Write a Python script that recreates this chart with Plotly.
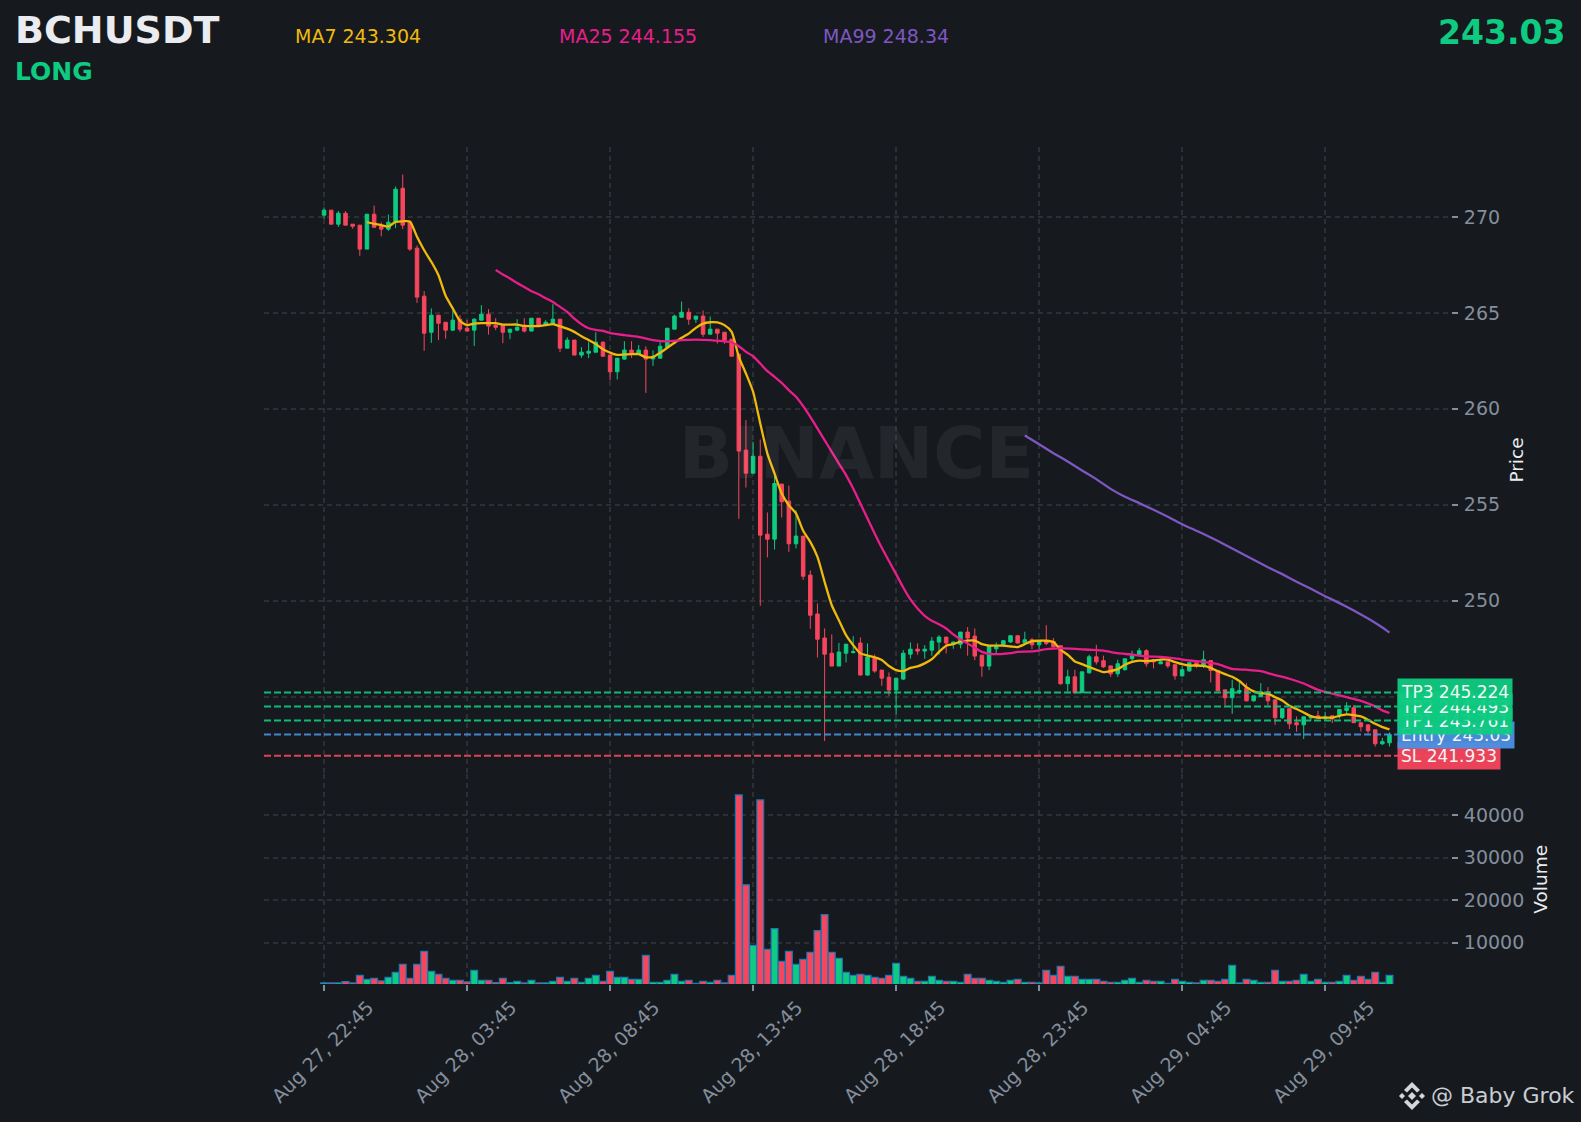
import pandas as pd
import plotly.graph_objects as go
from plotly.subplots import make_subplots

# 15m candles, Aug 27 22:45 -> Aug 29 12:00
dates = pd.date_range("2025-08-27 22:45", periods=150, freq="15min")

opens = [270.09,270.35,269.62,270.19,269.62,269.57,268.32,270.14,269.51,269.36,
         269.72,271.49,269.72,268.37,265.87,263.99,264.88,264.51,264.10,264.67,
         264.20,264.10,264.62,264.93,264.36,264.36,263.99,264.10,264.25,264.05,
         264.72,264.36,264.41,264.67,263.16,263.58,262.80,262.90,262.95,263.47,
         262.80,261.93,262.59,263.06,262.85,263.06,262.60,262.64,263.21,264.15,
         264.77,265.03,264.67,264.83,263.89,264.15,263.99,263.63,262.85,257.85,
         256.65,257.53,253.47,253.21,256.08,255.19,252.97,253.37,251.34,249.31,
         248.06,247.27,246.60,247.27,247.30,247.80,246.13,247.01,246.39,246.02,
         245.35,245.92,247.22,247.48,247.38,247.43,247.85,248.11,247.74,247.74,
         248.37,248.16,247.17,246.60,247.50,247.71,247.86,248.18,247.81,247.97,
         247.71,247.90,247.88,247.66,245.68,246.04,245.21,246.25,247.08,246.88,
         246.61,246.20,246.41,246.98,247.19,247.40,246.93,246.72,246.82,246.67,
         246.09,246.35,246.77,246.61,246.89,246.37,245.36,244.95,245.25,245.47,
         244.79,245.00,245.26,244.84,243.91,244.38,243.65,243.54,243.90,244.01,
         243.85,244.01,244.06,244.29,244.43,243.65,243.54,243.28,242.55,242.60]
highs = [270.49,270.35,270.31,270.30,269.62,269.57,270.14,270.59,269.72,270.12,
         271.58,272.20,269.72,268.51,266.13,265.23,264.88,264.51,265.14,264.88,
         264.62,264.72,265.40,265.19,264.72,264.36,264.15,264.67,264.72,264.72,
         264.72,264.62,265.45,264.67,263.73,263.58,263.21,263.47,263.99,263.52,
         262.80,262.64,263.52,263.52,263.32,263.26,263.04,263.47,264.20,264.91,
         265.59,265.24,264.83,265.12,264.81,264.15,263.99,263.63,262.85,259.41,
         258.28,258.40,254.60,256.72,256.08,256.00,254.72,253.37,251.58,249.86,
         248.56,248.25,247.81,247.74,248.16,248.09,247.78,247.20,246.39,246.27,
         245.97,247.43,247.83,247.78,247.69,248.11,248.21,248.11,247.88,248.37,
         248.63,248.56,247.17,247.64,247.83,247.95,248.22,248.22,248.39,248.06,
         247.90,248.73,248.06,247.68,246.41,246.41,246.30,247.19,247.71,247.14,
         246.61,246.93,246.98,247.40,247.55,247.48,246.93,246.98,246.82,246.67,
         246.61,246.77,246.77,247.40,246.89,246.37,245.36,245.89,245.75,245.71,
         245.05,245.71,245.50,244.84,244.38,244.38,243.98,243.96,244.00,244.27,
         244.22,244.01,244.34,244.72,244.58,243.65,243.54,243.28,242.86,243.14]
lows = [269.90,269.62,269.48,269.57,269.38,267.97,268.32,269.43,268.99,269.27,
        269.41,269.36,268.23,265.52,263.02,263.44,263.58,263.65,264.05,264.01,
        264.05,263.28,264.62,263.87,264.10,263.42,263.63,264.05,263.98,264.05,
        264.31,264.36,264.41,262.95,263.16,262.80,262.66,262.64,262.95,262.74,
        261.48,261.53,262.55,262.66,262.85,260.83,262.24,262.64,263.21,264.15,
        264.77,264.38,264.48,263.75,263.89,263.40,263.39,262.74,254.27,255.90,
        256.65,249.74,252.26,252.67,254.34,252.55,252.73,251.09,248.54,247.05,
        242.70,246.60,246.60,246.79,247.26,246.13,246.10,246.25,245.57,245.05,
        244.08,245.87,246.98,247.19,246.98,247.14,247.19,247.26,247.50,247.52,
        247.14,246.91,246.04,246.39,247.26,247.60,247.80,247.78,247.70,247.48,
        247.47,247.69,247.58,245.63,245.28,245.17,245.21,246.20,246.68,246.50,
        246.04,246.04,246.37,246.82,247.19,246.56,246.48,246.70,246.50,245.89,
        246.05,246.30,246.50,246.50,245.75,245.31,244.55,244.11,245.14,244.75,
        244.74,245.00,244.53,243.54,243.85,243.32,243.18,242.80,243.75,243.85,
        243.80,243.63,243.87,244.05,243.65,243.19,243.09,242.41,242.50,242.41]
closes = [270.35,269.62,270.19,269.57,269.51,268.32,270.14,269.46,269.36,269.72,
          271.44,269.57,268.32,265.82,263.94,264.88,264.46,264.10,264.62,264.15,
          264.05,264.67,264.93,264.31,264.25,263.99,264.15,264.25,264.05,264.72,
          264.31,264.51,264.67,263.16,263.58,262.80,262.95,263.00,263.47,262.74,
          261.93,262.64,263.06,262.85,263.06,262.59,262.71,263.26,264.20,264.83,
          265.03,264.67,264.83,263.89,264.15,263.94,263.58,262.74,257.80,256.65,
          257.53,253.42,253.21,256.11,255.16,252.97,253.37,251.28,249.25,248.00,
          247.22,246.60,247.33,247.74,247.35,246.13,247.07,246.34,245.97,245.35,
          245.97,247.27,247.48,247.38,247.48,247.90,248.11,247.80,247.85,248.37,
          248.06,247.12,246.60,247.64,247.60,247.92,248.18,247.80,247.97,247.71,
          247.88,247.78,247.60,245.68,246.04,245.21,246.30,247.08,246.82,246.56,
          246.20,246.72,246.98,247.14,247.40,246.72,246.82,246.82,246.61,246.09,
          246.41,246.77,246.61,246.93,246.37,245.31,244.95,245.42,245.32,244.79,
          245.05,245.26,244.79,243.91,244.38,243.59,243.54,243.96,243.95,243.89,
          243.94,243.85,244.34,244.41,243.65,243.44,243.23,242.55,242.66,243.03]
volumes = [550,550,550,870,550,2350,1400,1650,1020,1880,
           3050,4920,1650,4920,7970,3290,2580,1650,1180,1180,
           790,3520,1180,1180,630,1650,630,950,550,1180,
           550,550,950,1880,950,1650,710,1650,2350,950,
           3290,1880,1880,1400,1400,7030,710,710,1180,2580,
           950,1180,480,950,710,1180,550,2350,44800,23640,
           9370,43610,8430,13350,5630,7970,4920,6090,7730,12880,
           16620,7730,6330,3050,2350,2580,2350,1880,1650,2350,
           5160,2120,1650,950,950,2120,1180,950,950,710,
           2580,1650,1650,1180,950,710,1180,1400,710,710,
           550,3520,2350,4460,2120,2120,1400,1400,1400,950,
           710,710,1180,1650,710,1180,950,950,480,1400,
           950,710,550,1180,1180,950,1400,4690,550,1400,
           1180,710,710,3520,950,950,1180,2580,950,1400,
           710,710,950,2350,1180,2120,1400,3050,710,2350]

ma7_idx = list(range(6, 150))
ma7 = [269.72,269.64,269.57,269.50,269.74,269.77,269.76,268.96,268.26,267.66,
       266.96,265.89,265.23,264.58,264.36,264.44,264.46,264.46,264.46,264.39,
       264.39,264.39,264.32,264.31,264.31,264.36,264.41,264.30,264.18,264.01,
       263.78,263.58,263.37,263.11,262.93,262.81,262.83,262.85,262.85,262.69,
       262.71,262.92,263.18,263.44,263.70,263.92,264.22,264.44,264.51,264.50,
       264.36,264.01,262.71,261.84,260.89,259.24,257.67,256.63,255.59,254.98,
       254.55,253.65,253.07,252.29,250.99,249.77,248.99,248.21,247.69,247.26,
       247.15,247.05,246.91,246.60,246.39,246.34,246.51,246.58,246.74,246.96,
       247.34,247.66,247.74,247.88,247.93,247.93,247.74,247.67,247.67,247.66,
       247.62,247.59,247.74,247.90,247.92,247.92,247.85,247.45,247.19,246.84,
       246.70,246.55,246.41,246.28,246.34,246.44,246.67,246.82,246.88,246.86,
       246.89,246.94,246.93,246.81,246.70,246.63,246.63,246.61,246.51,246.33,
       246.18,246.04,245.82,245.50,245.28,245.19,245.16,244.98,244.81,244.53,
       244.36,244.18,243.99,243.91,243.92,243.91,244.01,244.08,244.05,243.98,
       243.80,243.59,243.42,243.30]
ma25_idx = [24,25,26,27,28,29,30,31,32,33,34,35,36,37,38,39,40,42,44,46,48,50,52,54,56,57,
            58,59,60,61,62,63,64,65,66,67,68,69,70,71,72,73,74,75,76,77,78,79,80,81,82,83,
            84,85,86,87,88,89,90,91,92,93,94,95,96,97,99,101,103,105,107,109,111,113,115,
            117,119,121,123,125,127,129,131,133,135,137,139,141,143,145,147,148,149]
ma25 = [267.24,267.00,266.79,266.56,266.35,266.13,265.97,265.76,265.57,265.31,265.05,264.70,
        264.41,264.20,264.11,264.06,263.94,263.84,263.75,263.58,263.51,263.58,263.61,263.58,
        263.51,263.47,263.26,262.97,262.74,262.36,261.96,261.67,261.35,260.97,260.63,260.14,
        259.58,258.98,258.37,257.76,257.15,256.55,255.85,255.07,254.29,253.51,252.76,252.07,
        251.39,250.69,250.07,249.60,249.22,248.96,248.78,248.56,248.25,247.99,247.78,247.55,
        247.34,247.24,247.22,247.24,247.27,247.34,247.36,247.48,247.52,247.50,247.45,247.40,
        247.27,247.20,247.10,247.08,247.00,246.89,246.82,246.70,246.45,246.41,246.34,246.13,
        245.94,245.69,245.36,245.16,244.98,244.79,244.50,244.29,244.155]
ma99_idx = [98,100,102,104,106,108,110,112,114,116,118,120,122,124,126,128,130,132,134,136,
            138,140,142,144,146,148,149]
ma99 = [258.61,258.16,257.69,257.26,256.79,256.34,255.83,255.42,255.09,254.74,254.38,253.99,
        253.65,253.30,252.92,252.53,252.14,251.75,251.39,250.99,250.63,250.24,249.88,249.50,
        249.08,248.61,248.34]

level_names = ["SL", "Entry", "TP1", "TP2", "TP3"]
level_prices = [241.933, 243.03, 243.761, 244.493, 245.224]
level_colors = ["#F6465D", "#4A90E2", "#0ECB81", "#0ECB81", "#0ECB81"]

BG = "#161A1F"
UP = "#0ECB81"
DOWN = "#F6465D"
W, H = 1581, 1122
L, R, T, B = 264, 130, 147, 138


# pixel position on the page -> paper coordinates
def px(x):
    return (x - L) / (W - L - R)


def py(y):
    return (H - B - y) / (H - T - B)


fig = make_subplots(rows=2, cols=1, shared_xaxes=True)

fig.add_trace(go.Candlestick(x=dates, open=opens, high=highs, low=lows, close=closes,
                             increasing=dict(line=dict(color=UP, width=1), fillcolor=UP),
                             decreasing=dict(line=dict(color=DOWN, width=1), fillcolor=DOWN),
                             showlegend=False), row=1, col=1)
for idx, vals, color, smooth in [(ma7_idx, ma7, "#F0B90B", 0.6), (ma25_idx, ma25, "#E91E8C", 0.6), (ma99_idx, ma99, "#7E57C2", 0.3)]:
    fig.add_trace(go.Scatter(x=dates[idx], y=vals, mode="lines", showlegend=False,
                             line=dict(color=color, width=2.3, shape="spline", smoothing=smooth)), row=1, col=1)

vol_colors = [UP if c >= o else DOWN for o, c in zip(opens, closes)]
fig.add_trace(go.Bar(x=dates, y=volumes, showlegend=False,
                     marker=dict(color=vol_colors, line=dict(color="#1F77B4", width=1.2))), row=2, col=1)

shapes = []
annots = []
# levels: later labels sit on top of earlier ones
for name, price, color in zip(level_names, level_prices, level_colors):
    shapes.append(dict(type="line", xref="paper", x0=0, x1=1, yref="y", y0=price, y1=price,
                       line=dict(color=color, width=2, dash="7px,3px"), opacity=0.9))
    annots.append(dict(x=dates[-1], xref="x", y=price, yref="y", xanchor="left", xshift=7,
                       text=f"{name} {price:g}", showarrow=False, bgcolor=color, borderpad=3,
                       font=dict(size=17, color="white"), opacity=0.95))


def text_at(x, y, text, size, color, bold=False, anchor="left"):
    annots.append(dict(x=px(x), y=py(y), xref="paper", yref="paper", xanchor=anchor, yanchor="middle",
                       text=f"<b>{text}</b>" if bold else text, showarrow=False,
                       font=dict(size=size, color=color)))


text_at(13, 30.5, "BCHUSDT", 38, "#EAECEF", bold=True)
text_at(13, 71, "LONG", 25, UP, bold=True)
text_at(293, 36, "MA7 243.304", 19, "#F0B90B")
text_at(557, 36, "MA25 244.155", 19, "#E91E8C")
text_at(821, 36, "MA99 248.34", 19, "#7E57C2")
text_at(1567, 32, "243.03", 33, UP, bold=True, anchor="right")
text_at(856, 454, "BINANCE", 71, "rgba(255,255,255,0.06)", bold=True, anchor="center")
text_at(1429, 1095, "@ Baby Grok", 22, "#C9CCD1")


def poly(points, color="#D5D7DB"):
    path = "M" + " L".join(f"{px(x):.5f},{py(y):.5f}" for x, y in points) + " Z"
    shapes.append(dict(type="path", xref="paper", yref="paper", path=path,
                       fillcolor=color, line=dict(width=0), layer="above"))


# logo
cx, cy = 1412, 1096
poly([(cx, cy - 4), (cx + 4, cy), (cx, cy + 4), (cx - 4, cy)])
poly([(cx - 13, cy), (cx - 10, cy - 3), (cx - 7, cy), (cx - 10, cy + 3)])
poly([(cx + 13, cy), (cx + 10, cy - 3), (cx + 7, cy), (cx + 10, cy + 3)])
poly([(cx, cy - 14), (cx + 8, cy - 6), (cx + 5, cy - 3.5), (cx, cy - 8.5), (cx - 5, cy - 3.5), (cx - 8, cy - 6)])
poly([(cx, cy + 14), (cx + 8, cy + 6), (cx + 5, cy + 3.5), (cx, cy + 8.5), (cx - 5, cy + 3.5), (cx - 8, cy + 6)])

fig.update_layout(width=W, height=H, margin=dict(l=L, r=R, t=T, b=B, autoexpand=False),
                  paper_bgcolor=BG, plot_bgcolor=BG, showlegend=False, bargap=0.05,
                  font=dict(family="DejaVu Sans", color="#848E9C", size=19),
                  shapes=shapes, annotations=annots)

grid = dict(showgrid=True, gridcolor="#2B2F36", griddash="5px,4px", gridwidth=1.5, zeroline=False, showline=False)
x_range = ["2025-08-27 20:39", "2025-08-29 14:09"]
fig.update_xaxes(range=x_range, rangeslider_visible=False, tick0="2025-08-27 22:45", dtick=18000000, **grid)
fig.update_xaxes(showticklabels=False, ticks="", row=1, col=1)
fig.update_xaxes(showticklabels=True, ticks="outside", ticklen=6, tickwidth=1.5, tickcolor="#848E9C",
                 tickformat="%b %d, %H:%M", tickangle=-45, ticklabelshift=44, ticklabelstandoff=-2, row=2, col=1)

fig.update_yaxes(side="right", ticks="outside", ticklen=6, tickwidth=1.5, tickcolor="#848E9C",
                 ticklabelstandoff=2, automargin=False, **grid)
title_font = dict(color="#EAECEF", size=18.5)
fig.update_yaxes(domain=[0.2521, 1], range=[241.03, 273.64], dtick=5, tick0=0,
                 title=dict(text="Price", font=title_font, standoff=10.5), row=1, col=1)
fig.update_yaxes(domain=[0, 0.2503], range=[300, 49600], tickvals=[10000, 20000, 30000, 40000], tickformat="d",
                 title=dict(text="Volume", font=title_font, standoff=10.5), row=2, col=1)

fig.write_html("out.html", config={"displayModeBar": False},
               post_script=f"document.body.style.margin='0';document.body.style.background='{BG}';")
